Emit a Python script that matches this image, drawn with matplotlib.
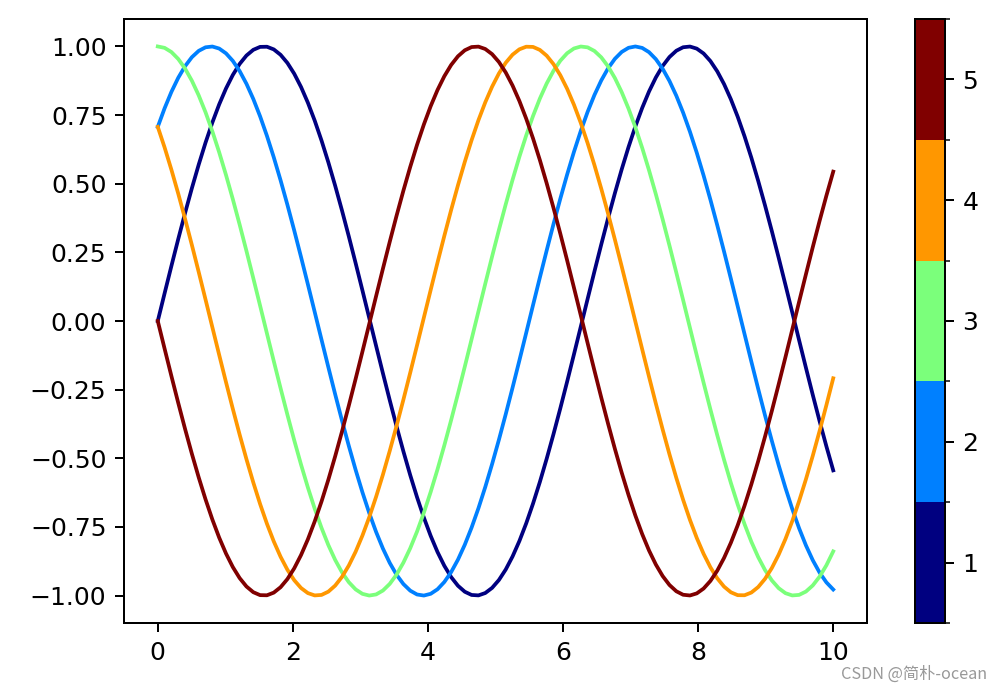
import numpy as np
import matplotlib
matplotlib.use('Agg')
import matplotlib.pyplot as plt
import matplotlib as mpl

# phase shifts (in units of pi/4), one per colour level
levels = [1, 2, 3, 4, 5]
phase_steps = [0, 1, 2, 3, 4]
x_start, x_end, n_points = 0, 10, 100

x = np.linspace(x_start, x_end, n_points)
cmap = plt.get_cmap('jet', len(levels))
bounds = np.arange(0.5, len(levels) + 1, 1)
norm = mpl.colors.BoundaryNorm(bounds, cmap.N)

dpi = 180
fig = plt.figure(figsize=(1002 / dpi, 691 / dpi), dpi=dpi)
ax = fig.add_axes([124 / 1002, 1 - 623 / 691, (867 - 124) / 1002, (623 - 19) / 691])
cax = fig.add_axes([915 / 1002, 1 - 623 / 691, 30 / 1002, (623 - 19) / 691])

for lev, k in zip(levels, phase_steps):
    ax.plot(x, np.sin(x + k * np.pi / 4), color=cmap(norm(lev)))

sm = mpl.cm.ScalarMappable(norm=norm, cmap=cmap)
cb = fig.colorbar(sm, cax=cax, ticks=levels)
cax.yaxis.set_minor_locator(mpl.ticker.FixedLocator(bounds))

# watermark
fig.text(0.985, 0.012, 'CSDN @简朴-ocean', ha='right', va='bottom', fontsize=6.5,
         color='#999999', family=['Noto Sans CJK SC', 'DejaVu Sans'])

fig.savefig('out.png', dpi=dpi)
